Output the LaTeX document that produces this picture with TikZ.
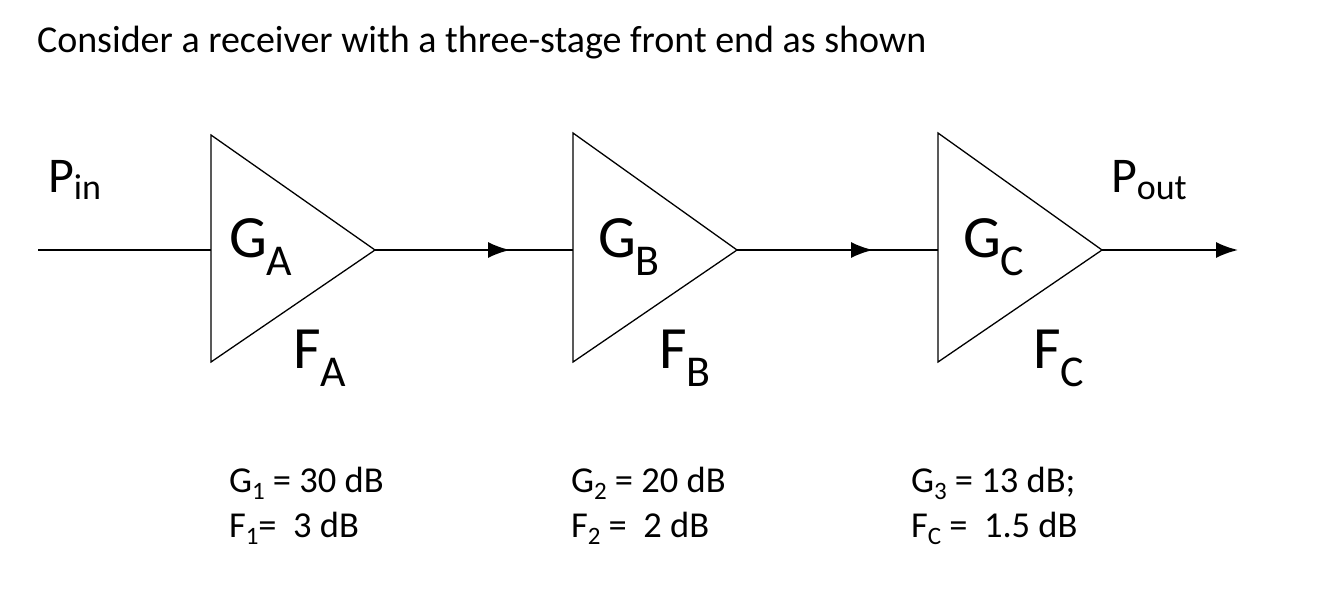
\documentclass[tikz,border=0pt]{standalone}
\usepackage{fontspec}
\setmainfont{Carlito}
\usetikzlibrary{arrows.meta}
\newcommand{\bigsub}[2]{{\fontsize{60}{60}\selectfont #1\raisebox{-0.3em}{\fontsize{44}{44}\selectfont #2}}}
\newcommand{\psub}[2]{{\fontsize{50}{50}\selectfont #1\raisebox{-0.15em}{\fontsize{36}{36}\selectfont #2}}}
\newcommand{\smsub}[2]{#1\raisebox{-0.2em}{\fontsize{25}{25}\selectfont #2}}
\begin{document}
\begin{tikzpicture}[x=1pt,y=-1pt,line width=2pt,
  amp/.style={draw,line width=1.3pt},
  arr/.style={-{Latex[length=22pt,width=16pt]}},
  txt/.style={inner sep=0pt,anchor=base west},
  val/.style={txt,font=\fontsize{36.5}{40}\selectfont}]
\useasboundingbox (0,0) rectangle (1319,598);
\node[txt] (title) at (36,52) {\fontsize{38}{42}\selectfont Consider a receiver with a three-stage front end as shown};
\foreach \n/\x/\t in {A/211/135,B/573/133,C/938/133}{
  \coordinate (\n l) at (\x,250);
  \coordinate (\n r) at (\x+164,250);
  \draw[amp] (\x,\t) -- (\n r) -- (\x,362) -- cycle;
}
\coordinate (in) at (38,250);
\coordinate (m1) at (510,250);
\coordinate (m2) at (873,250);
\coordinate (out) at (1238,250);
\draw (in) -- (Al);
\draw (Ar) -- (Bl); \draw[arr] (Ar) -- (m1);
\draw (Br) -- (Cl); \draw[arr] (Br) -- (m2);
\draw[arr] (Cr) -- (out);
\node[txt] (pin) at (47,192) {\psub{P}{in}};
\node[txt] (pout) at (1110,192) {\psub{P}{out}};
\node[txt] (ga) at (228,257) {\bigsub{G}{A}};
\node[txt] (fa) at (292,368) {\bigsub{F}{A}};
\node[txt] (gb) at (597,257) {\bigsub{G}{B}};
\node[txt] (fb) at (658,368) {\bigsub{F}{B}};
\node[txt] (gc) at (962,257) {\bigsub{G}{C}};
\node[txt] (fc) at (1032,368) {\bigsub{F}{C}};
\node[val] (g1) at (228,492) {\smsub{G}{1} = 30 dB};
\node[val] (f1) at (228,537) {\smsub{F}{1}=\ \ 3 dB};
\node[val] (g2) at (570,492) {\smsub{G}{2} = 20 dB};
\node[val] (f2) at (570,537) {\smsub{F}{2} =\ \ 2 dB};
\node[val] (g3) at (910,492) {\smsub{G}{3} = 13 dB;};
\node[val] (f3) at (910,537) {\smsub{F}{C} =\ \ 1.5 dB};
\end{tikzpicture}
\end{document}
